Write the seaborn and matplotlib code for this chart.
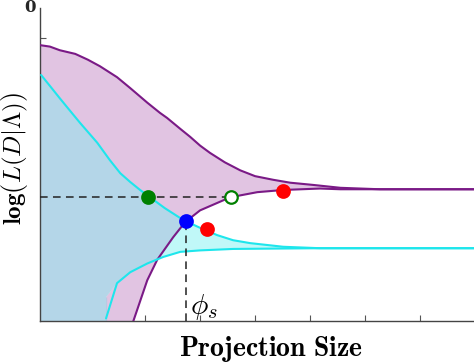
import numpy as np
import matplotlib
matplotlib.use('Agg')
import matplotlib.pyplot as plt
import seaborn as sns
import pandas as pd

# curves (x in tick units, y in tick units)
purple_up_x = [0.09, 0.27, 0.45, 0.73, 0.96, 1.18, 1.49, 1.73, 2.04, 2.27, 2.40, 2.64, 2.82, 3.00,
               3.18, 3.45, 3.73, 4.00, 4.33, 4.64, 5.05, 5.55, 6.27, 7.98]
purple_up_y = [-0.10, -0.12, -0.17, -0.22, -0.30, -0.39, -0.54, -0.69, -0.89, -1.03, -1.10, -1.25, -1.36, -1.48,
               -1.58, -1.71, -1.82, -1.90, -1.95, -1.99, -2.02, -2.06, -2.08, -2.08]

purple_lo_x = [1.67, 2.04, 2.22, 2.51, 2.73, 3.00, 3.55, 4.04, 4.51, 5.18, 5.55, 7.98]
purple_lo_y = [-4.15, -3.33, -3.05, -2.74, -2.53, -2.37, -2.19, -2.12, -2.09, -2.07, -2.08, -2.08]

cyan_up_x = [0.11, 0.27, 0.45, 0.58, 0.82, 1.13, 1.36, 1.55, 1.73, 1.91, 2.09, 2.36, 2.69, 3.00,
             3.31, 3.60, 3.91, 4.51, 5.18, 7.98]
cyan_up_y = [-0.51, -0.66, -0.83, -0.95, -1.17, -1.44, -1.68, -1.86, -1.98, -2.09, -2.19, -2.34, -2.50, -2.61,
             -2.71, -2.78, -2.82, -2.87, -2.89, -2.89]

cyan_lo_x = [1.29, 1.29, 1.49, 1.73, 2.04, 2.33, 2.64, 3.00, 3.60, 5.18, 7.98]
cyan_lo_y = [-4.15, -3.56, -3.37, -3.22, -3.10, -3.01, -2.94, -2.92, -2.90, -2.89, -2.89]

# points
pts_x = [2.06, 3.56, 4.50, 2.74, 3.13]
pts_y = [-2.18, -2.18, -2.11, -2.52, -2.63]
pts_face = ['green', 'white', 'red', 'blue', 'red']
pts_edge = ['green', 'green', 'red', 'blue', 'red']

phi_s = 2.74
level = -2.18
x_lim = (0.09, 7.98)
y_lim = (-3.89, 0.41)

sns.set_theme(style='white')
plt.rcParams['mathtext.fontset'] = 'cm'

fig = plt.figure(figsize=(4.74, 3.63), dpi=100)
ax = fig.add_axes([0.0844, 0.1157, 0.9156, 0.8622])

floor = y_lim[0] - 1
pink_poly = list(zip(purple_up_x, purple_up_y)) + list(zip(purple_lo_x[::-1], purple_lo_y[::-1])) \
    + [(x_lim[0] - 1, floor), (x_lim[0] - 1, purple_up_y[0])]
cyan_poly = list(zip(cyan_up_x, cyan_up_y)) + list(zip(cyan_lo_x[::-1], cyan_lo_y[::-1])) \
    + [(x_lim[0] - 1, floor), (x_lim[0] - 1, cyan_up_y[0])]

pink = plt.Polygon(pink_poly, closed=True, facecolor='#e1c4e2', edgecolor='none', zorder=1)
cyan = plt.Polygon(cyan_poly, closed=True, facecolor='#c0f8f8', edgecolor='none', zorder=1)
ax.add_patch(pink)
ax.add_patch(cyan)
# overlap of both bands
overlap = plt.Polygon(cyan_poly, closed=True, facecolor='#b4d6e8', edgecolor='none', zorder=2)
ax.add_patch(overlap)
overlap.set_clip_path(pink)

for xs, ys, c in [(purple_up_x, purple_up_y, '#7a1a86'), (purple_lo_x, purple_lo_y, '#7a1a86'),
                  (cyan_up_x, cyan_up_y, '#1ee6ec'), (cyan_lo_x, cyan_lo_y, '#1ee6ec')]:
    df = pd.DataFrame({'x': xs, 'y': ys})
    sns.lineplot(data=df, x='x', y='y', sort=False, color=c, lw=1.5, ax=ax, zorder=3)

ax.plot([x_lim[0], pts_x[1]], [level, level], ls='--', color='#222222', lw=1.1, dashes=(5, 3.5), zorder=3)
ax.plot([phi_s, phi_s], [y_lim[0], pts_y[3]], ls='--', color='#222222', lw=1.1, dashes=(5, 3.5), zorder=3)

for x, y, fc, ec in zip(pts_x, pts_y, pts_face, pts_edge):
    ax.plot(x, y, 'o', ms=9, mfc=fc, mec=ec, mew=1.6, zorder=5)

ax.text(phi_s + 0.07, -3.80, r'$\phi_s$', fontsize=21, color='black')

ax.set_xlim(*x_lim)
ax.set_ylim(*y_lim)
ax.set_xticks(range(1, 8))
ax.set_yticks([0, -1, -2, -3])
ax.set_xticklabels([])
ax.set_yticklabels([])
ax.tick_params(direction='in', length=4, width=0.8, colors='#555555', bottom=True, left=True)
sns.despine(ax=ax)
for s in ['left', 'bottom']:
    ax.spines[s].set_color('#444444')
    ax.spines[s].set_linewidth(1.0)

ax.set_xlabel(r'$\mathbf{Projection\ Size}$', fontsize=20, color='black')
ax.xaxis.set_label_coords(0.532, -0.04)
ax.set_ylabel(r'$\mathbf{log}\left(L(D|\Lambda)\right)$', fontsize=18, color='black')
ax.yaxis.set_label_coords(-0.022, 0.52)
fig.text(0.076, 0.978, '0', fontsize=12, fontweight='bold', family='DejaVu Serif', ha='right', va='center')

fig.savefig('out.png', dpi=100)
